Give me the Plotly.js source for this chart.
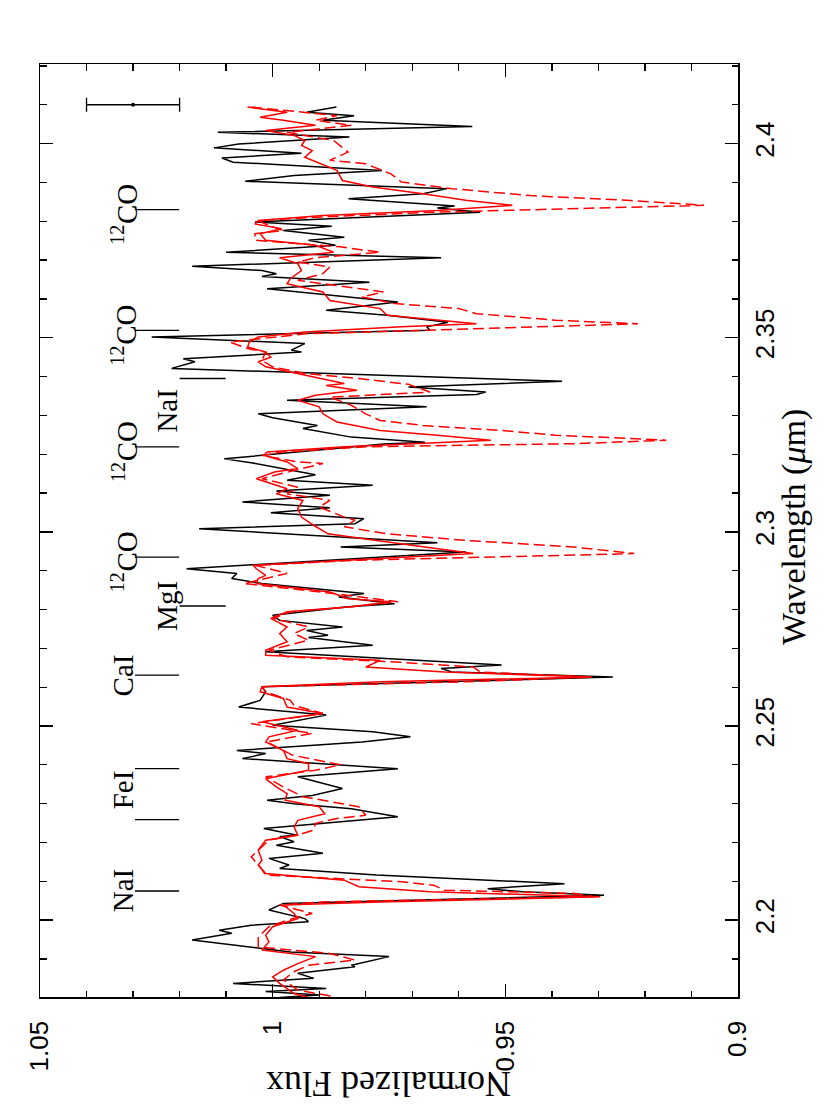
<!DOCTYPE html>
<html>
<head>
<meta charset="utf-8">
<script src="https://cdn.plot.ly/plotly-3.0.1.min.js"></script>
<style>
  html, body { margin: 0; padding: 0; background: #fff; }
  #chart { width: 830px; height: 1111px; }
</style>
</head>
<body>
<div id="chart"></div>
<script>
// ---------------- DATA ----------------
// Observed spectrum (black): wavelength (micron) and normalized flux
var blackWl = [2.4094,2.4081,2.4072,2.4060,2.4044,2.4029,2.4017,2.3999,2.3989,2.3975,2.3963,2.3952,2.3931,2.3918,2.3903,2.3884,2.3871,2.3858,2.3839,2.3834,2.3823,2.3798,2.3787,
  2.3776,2.3759,2.3751,2.3738,2.3720,2.3706,2.3684,2.3673,2.3665,2.3658,2.3643,2.3626,2.3592,2.3571,2.3558,2.3540,2.3528,2.3519,2.3502,2.3485,2.3468,2.3463,2.3446,2.3438,2.3421,2.3388,
  2.3373,2.3360,2.3354,2.3339,2.3322,2.3304,2.3294,2.3274,2.3266,2.3244,2.3231,2.3226,2.3188,2.3178,2.3147,2.3133,2.3120,2.3105,2.3094,2.3077,2.3062,2.3049,2.3034,2.3021,2.3008,2.2972,
  2.2961,2.2948,2.2905,2.2893,2.2880,2.2867,2.2841,2.2832,2.2815,2.2807,2.2785,2.2772,2.2755,2.2746,2.2734,2.2728,2.2708,2.2691,2.2657,2.2648,2.2639,2.2626,2.2601,2.2588,2.2566,
  2.2549,2.2528,2.2502,2.2485,2.2472,2.2459,2.2437,2.2429,2.2416,2.2390,2.2369,2.2339,2.2321,2.2309,2.2300,2.2287,2.2266,2.2236,2.2219,2.2215,2.2202,2.2193,2.2172,2.2159,2.2142,
  2.2133,2.2116,2.2094,2.2081,2.2073,2.2064,2.2043,2.2026,2.2004,2.1996,2.1987,2.1974,2.1966,2.1949,2.1931,2.1918,2.1906,2.1884,2.1880,2.1863,2.1850,2.1837,2.1824,2.1816,2.1807,2.1801];
var blackFlux = [0.9863,0.9927,0.9825,0.9892,0.9571,1.0118,0.9835,1.0073,1.0126,0.9938,1.0109,1.0085,0.9765,0.9954,1.0059,0.9625,0.9677,0.9837,0.9609,0.9646,0.9554,1.0038,0.9873,
  0.9977,0.9846,0.9923,0.9865,1.0100,0.9638,1.0173,1.0023,0.9992,1.0023,0.9792,1.0012,0.9731,0.9885,0.9754,0.9623,0.9669,0.9662,1.0260,0.9931,0.9960,0.9938,1.0192,1.0167,1.0217,0.9378,
  0.9708,0.9542,0.9562,0.9969,0.9669,1.0031,1.0000,0.9904,0.9935,0.9831,0.9673,0.9762,1.0104,1.0046,0.9908,0.9969,0.9785,0.9992,0.9877,1.0065,0.9877,1.0004,0.9804,0.9823,1.0158,0.9646,
  0.9854,0.9585,1.0185,1.0077,1.0088,1.0023,0.9804,0.9858,0.9738,0.9838,1.0000,0.9985,0.9850,0.9927,0.9881,0.9923,0.9785,1.0015,0.9508,0.9638,0.9615,0.9269,1.0023,1.0015,1.0027,
  1.0073,0.9885,1.0000,0.9785,0.9704,0.9808,1.0077,1.0015,1.0065,0.9731,0.9946,0.9850,0.9915,1.0012,0.9954,0.9831,0.9731,1.0019,0.9950,0.9985,0.9954,0.9992,0.9892,1.0008,0.9965,
  0.9985,0.9777,0.9373,0.9538,0.9462,0.9288,0.9977,1.0008,0.9931,0.9923,1.0046,1.0115,1.0088,1.0173,1.0046,0.9962,0.9750,0.9831,0.9823,0.9946,0.9912,1.0085,0.9885,1.0015,0.9900,0.9985];

// Model 1 (red solid)
var solidWl = [2.4094,2.4081,2.4068,2.4060,2.4047,2.4034,2.4021,2.4008,2.3995,2.3982,2.3965,2.3931,2.3905,2.3888,2.3871,2.3854,2.3841,2.3828,2.3815,2.3802,2.3793,2.3781,
  2.3768,2.3751,2.3738,2.3720,2.3706,2.3691,2.3673,2.3652,2.3639,2.3618,2.3596,2.3575,2.3558,2.3545,2.3536,2.3528,2.3515,2.3502,2.3489,2.3476,2.3463,2.3450,2.3438,2.3425,2.3412,2.3399,2.3382,
  2.3377,2.3365,2.3352,2.3339,2.3322,2.3304,2.3283,2.3261,2.3249,2.3236,2.3223,2.3219,2.3206,2.3197,2.3180,2.3163,2.3154,2.3137,2.3129,2.3111,2.3098,2.3081,2.3060,2.3038,2.3017,2.2995,2.2978,
  2.2944,2.2914,2.2905,2.2888,2.2880,2.2867,2.2845,2.2828,2.2820,2.2807,2.2794,2.2777,2.2755,2.2738,2.2717,2.2695,2.2682,2.2669,2.2652,2.2639,2.2626,2.2614,2.2601,2.2588,2.2571,
  2.2549,2.2532,2.2511,2.2489,2.2472,2.2459,2.2437,2.2416,2.2403,2.2386,2.2364,2.2343,2.2326,2.2309,2.2292,2.2274,2.2257,2.2240,2.2219,2.2206,2.2180,2.2154,
  2.2142,2.2120,2.2103,2.2086,2.2073,2.2060,2.2047,2.2039,2.2017,2.2004,2.1983,2.1961,2.1944,2.1923,2.1906,2.1888,2.1871,2.1854,2.1837,2.1811,2.1801];
var solidFlux = [1.0054,0.9969,1.0027,0.9977,0.9908,1.0015,0.9954,0.9931,0.9938,0.9915,0.9931,0.9862,0.9850,0.9785,0.9677,0.9585,0.9485,0.9646,0.9892,1.0031,1.0038,0.9981,
  1.0027,1.0015,0.9908,0.9869,0.9985,0.9946,0.9938,0.9962,0.9969,0.9892,0.9877,0.9769,0.9754,0.9646,0.9562,0.9723,0.9931,1.0031,1.0050,1.0054,1.0015,1.0004,1.0031,1.0015,0.9962,0.9908,0.9846,
  0.9885,0.9819,0.9908,0.9946,0.9900,0.9892,0.9862,0.9769,0.9646,0.9531,0.9769,0.9846,1.0012,1.0019,0.9969,0.9946,0.9996,1.0035,1.0015,0.9969,0.9992,0.9935,0.9946,0.9938,0.9912,0.9881,0.9777,
  0.9569,1.0042,1.0035,1.0015,1.0031,1.0035,0.9877,0.9838,0.9746,0.9831,0.9969,1.0004,0.9969,0.9985,0.9969,1.0015,1.0015,0.9769,0.9800,0.9631,0.9315,0.9769,1.0023,1.0027,0.9977,
  0.9969,0.9892,1.0023,0.9946,1.0008,1.0015,0.9977,0.9969,0.9923,0.9923,1.0015,0.9992,0.9969,0.9973,0.9900,0.9888,0.9946,0.9954,0.9946,1.0015,1.0031,1.0023,
  1.0031,1.0015,0.9846,0.9815,0.9662,0.9296,0.9769,0.9977,0.9954,0.9946,1.0000,1.0015,1.0008,1.0023,0.9908,0.9946,0.9977,1.0000,0.9985,0.9954,0.9923];

// Model 2 (red dashed)
var dashWl = [2.4094,2.4072,2.4060,2.4047,2.4029,2.4008,2.3978,2.3957,2.3948,2.3922,2.3901,2.3884,2.3866,2.3854,2.3841,2.3832,2.3823,2.3811,2.3802,2.3789,2.3776,
  2.3768,2.3751,2.3734,2.3720,2.3706,2.3695,2.3682,2.3665,2.3648,2.3631,2.3618,2.3605,2.3588,2.3575,2.3562,2.3545,2.3536,2.3528,2.3519,2.3510,2.3489,2.3472,2.3463,2.3442,2.3425,2.3408,2.3395,2.3380,
  2.3360,2.3347,2.3326,2.3304,2.3287,2.3274,2.3261,2.3249,2.3236,2.3227,2.3223,2.3219,2.3206,2.3197,2.3180,2.3176,2.3163,2.3137,2.3115,2.3098,2.3081,2.3064,2.3038,2.3030,2.3013,2.2995,2.2978,2.2961,
  2.2944,2.2935,2.2927,2.2914,2.2893,2.2867,2.2841,2.2820,2.2807,2.2794,2.2777,2.2755,2.2738,2.2721,2.2695,2.2678,2.2665,2.2652,2.2639,2.2626,2.2614,2.2601,2.2588,2.2566,
  2.2553,2.2532,2.2506,2.2481,2.2459,2.2425,2.2400,2.2386,2.2369,2.2343,2.2318,2.2292,2.2270,2.2262,2.2249,2.2232,2.2219,2.2206,2.2189,2.2163,2.2137,
  2.2116,2.2099,2.2090,2.2077,2.2069,2.2060,2.2047,2.2039,2.2017,2.2000,2.1983,2.1957,2.1931,2.1914,2.1897,2.1884,2.1867,2.1846,2.1820,2.1803];
var dashFlux = [1.0046,0.9862,0.9908,0.9831,0.9969,0.9869,0.9838,0.9877,0.9800,0.9746,0.9723,0.9615,0.9446,0.9238,0.9073,0.9392,0.9662,0.9892,1.0031,1.0008,0.9977,
  1.0038,1.0038,0.9854,0.9769,0.9908,0.9946,0.9877,0.9892,0.9946,0.9838,0.9762,0.9808,0.9738,0.9600,0.9562,0.9392,0.9215,0.9431,0.9662,0.9931,1.0092,1.0054,1.0015,1.0023,1.0000,0.9931,0.9815,0.9708,
  0.9662,0.9877,0.9831,0.9800,0.9769,0.9677,0.9508,0.9392,0.9154,0.9354,0.9585,0.9800,0.9977,1.0023,0.9946,0.9892,0.9938,1.0023,0.9946,0.9969,0.9877,0.9900,0.9846,0.9823,0.9846,0.9754,0.9585,0.9354,
  0.9223,0.9569,0.9815,1.0038,0.9969,1.0062,0.9869,0.9731,0.9831,0.9962,1.0000,0.9923,0.9954,0.9923,1.0008,0.9969,0.9738,0.9569,0.9554,0.9315,0.9585,1.0023,1.0015,0.9962,
  0.9954,0.9892,1.0046,0.9915,1.0012,0.9958,0.9854,0.9908,1.0015,0.9977,0.9935,0.9815,0.9800,0.9862,0.9908,0.9912,0.9946,1.0008,1.0023,1.0046,1.0027,
  1.0015,0.9723,0.9654,0.9631,0.9354,0.9308,0.9892,0.9985,0.9915,0.9969,1.0008,1.0031,1.0031,0.9877,0.9823,0.9923,0.9954,0.9977,0.9946,0.9869];

// Line identifications
var lineWl    = [2.2075, 2.2259, 2.2390, 2.2631, 2.2809, 2.2935, 2.3219, 2.3395, 2.3519, 2.3830];
var lineShift = [0, 0, 0, 0, 1, 0, 0, 1, 0, 0];   // 1 = marker drawn nearer the spectrum
var labelText = ['NaI', 'FeI', 'CaI', 'MgI', 'CO', 'CO', 'NaI', 'CO', 'CO'];
var labelIso  = ['', '', '', '', '12', '12', '', '12', '12'];   // isotope superscript
var labelWl   = [2.2075, 2.2335, 2.2631, 2.2808, 2.2948, 2.3232, 2.3311, 2.3532, 2.3843];
var labelShift= [0, 0, 0, 1, 0, 0, 1, 0, 0];

// Typical error bar
var errWl = [2.41];
var errFlux = [1.03];
var errSize = [0.01];

// Tick labels
var fluxTicks = [1.05, 1, 0.95, 0.9];
var fluxTickText = ['1.05', '1', '0.95', '0.9'];
var wlTicks = [2.2, 2.25, 2.3, 2.35, 2.4];
var wlTickText = ['2.2', '2.25', '2.3', '2.35', '2.4'];

// ---------------- PLOT ----------------
var SERIF = 'Liberation Serif, DejaVu Serif, serif';
var SANS = 'Liberation Sans, Arial, sans-serif';

var traces = [
  { x: blackFlux, y: blackWl, type: 'scatter', mode: 'lines',
    line: { color: '#000000', width: 1.5 }, name: 'observed' },
  { x: dashFlux, y: dashWl, type: 'scatter', mode: 'lines',
    line: { color: '#ff0000', width: 1.5, dash: '11px,5px' }, name: 'model 2' },
  { x: solidFlux, y: solidWl, type: 'scatter', mode: 'lines',
    line: { color: '#ff0000', width: 1.5 }, name: 'model 1' },
  { x: errFlux, y: errWl, type: 'scatter', mode: 'markers',
    marker: { color: '#000000', size: 4 },
    error_x: { type: 'data', array: errSize, visible: true, color: '#000000', thickness: 1.3, width: 7 },
    name: 'error' }
];

var shapes = lineWl.map(function (w, i) {
  var x0 = lineShift[i] ? 1.0200 : 1.0296;
  var x1 = lineShift[i] ? 1.0101 : 1.0201;
  return { type: 'line', xref: 'x', yref: 'y', x0: x0, x1: x1, y0: w, y1: w,
           line: { color: '#000000', width: 1.3 } };
});

var annotations = [];
labelText.forEach(function (t, i) {
  var iso = labelIso[i] !== '';
  annotations.push({
    text: t, xref: 'x', yref: 'y',
    x: labelShift[i] ? 1.0226 : (iso ? 1.0314 : 1.0321), y: labelWl[i],
    xanchor: 'center', yanchor: 'middle', textangle: -90, showarrow: false,
    font: { family: SERIF, size: 29, color: '#000000' }
  });
  if (iso) {
    annotations.push({
      text: labelIso[i], xref: 'x', yref: 'y', x: 1.0334, y: labelWl[i] - 0.0077,
      xanchor: 'center', yanchor: 'middle', textangle: -90, showarrow: false,
      font: { family: SERIF, size: 20, color: '#000000' }
    });
  }
});
annotations.push({
  text: 'Normalized Flux', xref: 'paper', yref: 'paper', x: 0.5, y: -0.093,
  xanchor: 'center', yanchor: 'middle', textangle: 180, showarrow: false,
  font: { family: SERIF, size: 36, color: '#000000' }
});
annotations.push({
  text: 'Wavelength (<i>μ</i>m)', xref: 'paper', yref: 'paper', x: 1.0805, y: 0.504,
  xanchor: 'center', yanchor: 'middle', textangle: -90, showarrow: false,
  font: { family: SERIF, size: 34, color: '#000000' }
});

var axisCommon = {
  showgrid: false, zeroline: false, showline: true, linecolor: '#000000', linewidth: 1.5,
  mirror: 'allticks', ticks: 'inside', ticklen: 13, tickwidth: 1.3, tickcolor: '#000000',
  tickangle: -90, automargin: false,
  tickfont: { family: SANS, size: 26, color: '#000000' }
};

var layout = {
  width: 830, height: 1111,
  margin: { l: 40, r: 92, t: 64, b: 114, pad: 0 },
  paper_bgcolor: '#ffffff', plot_bgcolor: '#ffffff',
  showlegend: false, hovermode: false,
  xaxis: Object.assign({}, axisCommon, {
    range: [1.05, 0.9], tickmode: 'array', tickvals: fluxTicks, ticktext: fluxTickText,
    ticklabelstandoff: 12,
    minor: { tick0: 0.9, dtick: 0.01, ticks: 'inside', ticklen: 6.5, tickwidth: 1.3, tickcolor: '#000000', showgrid: false }
  }),
  yaxis: Object.assign({}, axisCommon, {
    range: [2.1802, 2.4205], side: 'right', tickmode: 'array', tickvals: wlTicks, ticktext: wlTickText,
    ticklabelstandoff: 3,
    minor: { tick0: 2.2, dtick: 0.01, ticks: 'inside', ticklen: 6.5, tickwidth: 1.3, tickcolor: '#000000', showgrid: false }
  }),
  shapes: shapes,
  annotations: annotations
};

Plotly.newPlot('chart', traces, layout, { staticPlot: true, displayModeBar: false });
</script>
</body>
</html>
